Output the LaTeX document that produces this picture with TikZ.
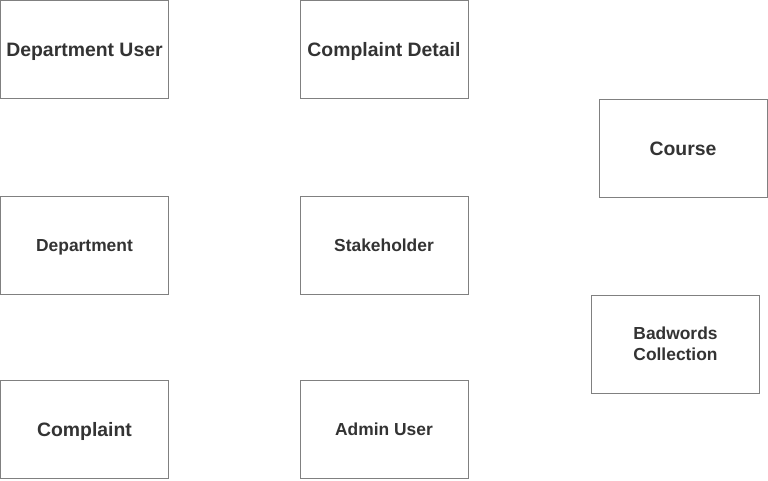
\documentclass[tikz,border=0pt]{standalone}
\usepackage{fontspec}
\setmainfont{Liberation Sans}
\begin{document}
\begin{tikzpicture}[x=1pt,y=-1pt,
  entbox/.style={draw=black!50, line width=1pt, fill=white, minimum width=168pt, minimum height=98pt, inner sep=0pt, text=black!80, align=center, text depth=0pt, font=\bfseries},
  bigtxt/.style={font=\fontsize{19.4}{23}\selectfont\bfseries},
  smalltxt/.style={font=\fontsize{17.4}{21}\selectfont\bfseries}]
\useasboundingbox (0,0) rectangle (768,480);
\node[entbox,bigtxt] (du) at (84.5,49.5) {Department User};
\node[entbox,bigtxt] (cd) at (384,49.5) {Complaint Detail};
\node[entbox,bigtxt] (co) at (683,148.5) {Course};
\node[entbox,smalltxt] (de) at (84.5,245.5) {Department};
\node[entbox,smalltxt] (st) at (384,245.5) {Stakeholder};
\node[entbox,smalltxt] (bw) at (675.5,344) {Badwords\\Collection};
\node[entbox,bigtxt] (cp) at (84.5,429.5) {Complaint};
\node[entbox,smalltxt] (au) at (384,429.5) {Admin User};
\end{tikzpicture}
\end{document}
